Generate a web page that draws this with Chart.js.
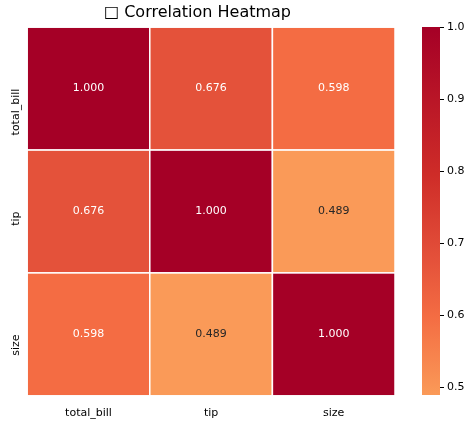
<!DOCTYPE html><html><head><style>body{margin:0;background:#fff}#w{position:relative;width:474px;height:423px}canvas{position:absolute;top:0}</style>
<script src="https://cdn.jsdelivr.net/npm/chart.js"></script></head><body><div id="w"><canvas id="c" width="410" height="423" style="left:0;width:410px;height:423px"></canvas><canvas id="cb" width="74" height="423" style="left:400px;width:74px;height:423px"></canvas></div>
<script>
const labels=['total_bill','tip','size'];
const matrix=[[1.000,0.676,0.598],[0.676,1.000,0.489],[0.598,0.489,1.000]];
const cbTicks=[0.5,0.6,0.7,0.8,0.9,1.0];
const vmin=0.489,vmax=1.0;
const stops=[[0,[250,154,88]],[0.21,[244,109,67]],[0.37,[228,81,58]],[0.6,[206,44,40]],[1,[165,0,38]]];
function col(v){let t=(v-vmin)/(vmax-vmin);t=Math.max(0,Math.min(1,t));for(let i=1;i<stops.length;i++){if(t<=stops[i][0]){const a=stops[i-1],b=stops[i];const f=(t-a[0])/(b[0]-a[0]);const c=a[1].map((x,k)=>Math.round(x+(b[1][k]-x)*f));return `rgb(${c})`;}}return 'rgb(165,0,38)';}
Chart.defaults.font.family='DejaVu Sans';Chart.defaults.color='#222';
const pts=[];matrix.forEach((r,i)=>r.forEach((v,j)=>pts.push({x:j,y:i,v})));
const heat={id:'heat',afterDatasetsDraw(ch){const {ctx,scales:{x,y}}=ch;pts.forEach(p=>{const x0=x.getPixelForValue(p.x-0.5),x1=x.getPixelForValue(p.x+0.5),y0=y.getPixelForValue(p.y-0.5),y1=y.getPixelForValue(p.y+0.5);ctx.fillStyle=col(p.v);ctx.fillRect(x0,y0,x1-x0,y1-y0);ctx.strokeStyle='#fff';ctx.lineWidth=1.5;ctx.strokeRect(x0,y0,x1-x0,y1-y0);ctx.fillStyle=p.v>0.55?'#fff':'#262626';ctx.font='11px DejaVu Sans';ctx.textAlign='center';ctx.textBaseline='middle';ctx.fillText(p.v.toFixed(3),(x0+x1)/2,(y0+y1)/2);});}};
new Chart(document.getElementById('c'),{type:'scatter',data:{datasets:[{data:pts,pointRadius:0}]},plugins:[heat],options:{responsive:false,animation:false,layout:{padding:{right:15,top:0}},plugins:{legend:{display:false},tooltip:{enabled:false},title:{display:true,text:'□ Correlation Heatmap',font:{size:16,weight:'normal'},color:'#000',padding:{top:3,bottom:5}}},scales:{x:{min:-0.5,max:2.5,grid:{display:false},border:{display:false},afterBuildTicks(s){s.ticks=[0,1,2].map(v=>({value:v}))},ticks:{callback:v=>labels[v],font:{size:11},color:'#000',maxRotation:0}},y:{reverse:true,min:-0.5,max:2.5,grid:{display:false},border:{display:false},afterBuildTicks(s){s.ticks=[0,1,2].map(v=>({value:v}))},ticks:{callback:v=>labels[v],font:{size:11},color:'#000',minRotation:90,maxRotation:90}}}}});
const grad={id:'grad',beforeDatasetsDraw(ch){const {ctx,chartArea:a,scales:{y}}=ch;const g=ctx.createLinearGradient(0,a.bottom,0,a.top);stops.forEach(s=>g.addColorStop(s[0],`rgb(${s[1]})`));ctx.fillStyle=g;ctx.fillRect(a.left,a.top,a.right-a.left,a.bottom-a.top);
ctx.strokeStyle='#000';ctx.lineWidth=1;ctx.fillStyle='#000';ctx.font='11px DejaVu Sans';ctx.textAlign='left';ctx.textBaseline='middle';
cbTicks.forEach(v=>{const py=Math.round(y.getPixelForValue(v))+0.5;ctx.beginPath();ctx.moveTo(a.right,py);ctx.lineTo(a.right+4,py);ctx.stroke();ctx.fillText(v.toFixed(1),a.right+7,py);});}};
new Chart(document.getElementById('cb'),{type:'scatter',data:{datasets:[{data:[]}]},plugins:[grad],options:{responsive:false,animation:false,layout:{padding:{left:22,top:27,bottom:28,right:34}},plugins:{legend:{display:false},tooltip:{enabled:false}},scales:{x:{display:false},y:{display:false,min:vmin,max:vmax}}}});
</script></body></html>
